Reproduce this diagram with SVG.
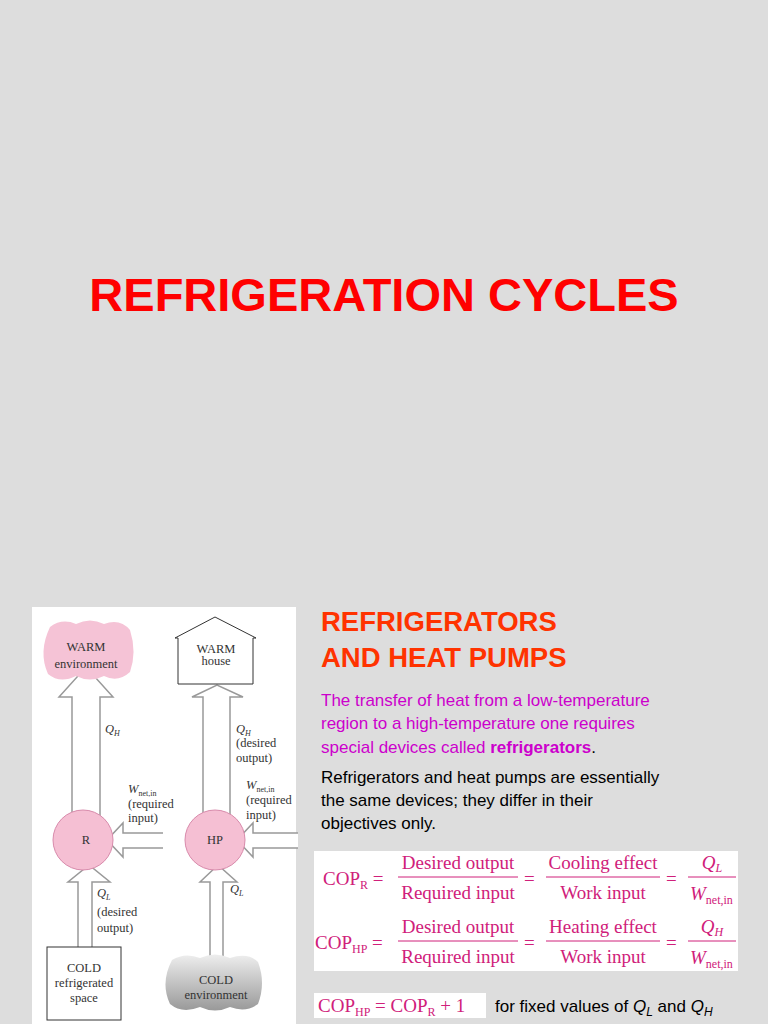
<svg xmlns="http://www.w3.org/2000/svg" width="768" height="1024" viewBox="0 0 768 1024">
<defs>
<style>
.t{font-family:"Liberation Serif",serif;font-size:12.5px;fill:#333}
.c{text-anchor:middle}
.ar{fill:#fff;stroke:#999;stroke-width:1.5}
.f{font-family:"Liberation Serif",serif;font-size:19px;fill:#d0207a}
.s{font-family:"Liberation Sans",sans-serif;font-size:17px}
.ln{stroke:#d0207a;stroke-width:1}
</style>
<linearGradient id="g" x1="0" y1="0" x2="0" y2="1"><stop offset="0" stop-color="#eee"/><stop offset="1" stop-color="#999"/></linearGradient>
</defs>
<rect width="768" height="1024" fill="#dddddd"/>
<text x="384" y="311" text-anchor="middle" font-family="Liberation Sans,sans-serif" font-weight="bold" font-size="47" fill="#ff0000">REFRIGERATION CYCLES</text>
<rect x="32" y="607" width="264" height="417" fill="#fff"/>
<g id="connectors">
<path class="ar" d="M72 818 V697 H59 L86 667 L113 697 H100 V818"/>
<path class="ar" d="M163 833 H123 V823 L107 840 L123 857 V848 H163"/>
<path class="ar" d="M78 947 V882 H68 L89 865 L110 882 H92 V947"/>
<path class="ar" d="M203 818 V697 H192 L217 685 L243 697 H230 V818"/>
<path class="ar" d="M298 833 H253 V823 L237 840 L253 857 V848 H298"/>
<path class="ar" d="M210 965 V882 H200 L218 865 L237 882 H223 V965"/>
</g>
<g id="warm-env">
<path d="M50 627 Q62 618 76 624 Q90 617 104 624 Q120 618 130 630 Q137 652 130 672 Q118 683 104 676 Q90 683 76 676 Q60 684 48 674 Q38 652 50 627Z" fill="#f5c3d6"/>
<text class="t c" x="86" y="651">WARM</text><text class="t c" x="86" y="668">environment</text>
</g>
<g id="R"><circle cx="83" cy="840" r="30" fill="#f5bfd3" stroke="#d88aab"/><text class="t c" x="86" y="844">R</text></g>
<g id="cold-space"><rect x="47" y="947" width="74" height="73" fill="#fff" stroke="#333"/>
<text class="t c" x="84" y="972">COLD</text><text class="t c" x="84" y="987">refrigerated</text><text class="t c" x="84" y="1002">space</text></g>
<g id="house"><path d="M178 684 V638 H175 L215 617 L256 638 H253 V684Z" fill="#fff" stroke="#333"/>
<text class="t c" x="216" y="653">WARM</text><text class="t c" x="216" y="665">house</text></g>
<g id="HP"><circle cx="215" cy="840" r="30" fill="#f5bfd3" stroke="#d88aab"/><text class="t c" x="215" y="844">HP</text></g>
<g id="cold-env"><path d="M172 960 Q185 952 200 958 Q215 951 230 958 Q248 952 258 962 Q266 983 258 1004 Q246 1013 230 1007 Q215 1014 200 1007 Q182 1014 170 1004 Q160 983 172 960Z" fill="url(#g)"/>
<text class="t c" x="216" y="984">COLD</text><text class="t c" x="216" y="999">environment</text></g>
<g id="labels">
<text class="t" x="105" y="733"><tspan font-style="italic">Q</tspan><tspan font-style="italic" font-size="8" dy="3">H</tspan></text>
<text class="t" x="128" y="793"><tspan font-style="italic">W</tspan><tspan font-size="8" dy="3">net,in</tspan></text>
<text class="t" x="128" y="808">(required</text><text class="t" x="128" y="822">input)</text>
<text class="t" x="97" y="897"><tspan font-style="italic">Q</tspan><tspan font-style="italic" font-size="8" dy="3">L</tspan></text>
<text class="t" x="97" y="916">(desired</text><text class="t" x="97" y="932">output)</text>
<text class="t" x="236" y="733"><tspan font-style="italic">Q</tspan><tspan font-style="italic" font-size="8" dy="3">H</tspan></text>
<text class="t" x="236" y="747">(desired</text><text class="t" x="236" y="762">output)</text>
<text class="t" x="246" y="789"><tspan font-style="italic">W</tspan><tspan font-size="8" dy="3">net,in</tspan></text>
<text class="t" x="246" y="804">(required</text><text class="t" x="246" y="819">input)</text>
<text class="t" x="230" y="893"><tspan font-style="italic">Q</tspan><tspan font-style="italic" font-size="8" dy="3">L</tspan></text>
</g>
<g font-family="Liberation Sans,sans-serif" font-weight="bold" font-size="27.5" fill="#ff3300">
<text x="321" y="631">REFRIGERATORS</text><text x="321" y="667">AND HEAT PUMPS</text></g>
<text class="s" x="321" y="706" fill="#cc00cc">The transfer of heat from a low-temperature</text>
<text class="s" x="321" y="729" fill="#cc00cc">region to a high-temperature one requires</text>
<text class="s" x="321" y="753" fill="#cc00cc">special devices called <tspan font-weight="bold">refrigerators</tspan><tspan fill="#000">.</tspan></text>
<text class="s" x="321" y="783">Refrigerators and heat pumps are essentially</text>
<text class="s" x="321" y="806">the same devices; they differ in their</text>
<text class="s" x="321" y="829">objectives only.</text>
<g id="formulas">
<rect x="314" y="851" width="424" height="120" fill="#fff"/>
<text class="f" x="323" y="885">COP<tspan font-size="12" dy="4">R</tspan><tspan dy="-4"> =</tspan></text>
<text class="f c" x="458" y="869">Desired output</text><line class="ln" x1="398" y1="877" x2="518" y2="877"/><text class="f c" x="458" y="899">Required input</text>
<text class="f" x="524" y="885">=</text>
<text class="f c" x="603" y="869">Cooling effect</text><line class="ln" x1="546" y1="877" x2="660" y2="877"/><text class="f c" x="603" y="899">Work input</text>
<text class="f" x="666" y="885">=</text>
<text class="f c" x="712" y="869" font-style="italic">Q<tspan font-size="12" dy="3">L</tspan></text><line class="ln" x1="688" y1="877" x2="736" y2="877"/>
<text class="f" x="690" y="900" font-style="italic">W<tspan font-style="normal" font-size="12" dy="4">net,in</tspan></text>
<text class="f" x="315" y="949">COP<tspan font-size="12" dy="4">HP</tspan><tspan dy="-4"> =</tspan></text>
<text class="f c" x="458" y="933">Desired output</text><line class="ln" x1="398" y1="941" x2="518" y2="941"/><text class="f c" x="458" y="963">Required input</text>
<text class="f" x="524" y="949">=</text>
<text class="f c" x="603" y="933">Heating effect</text><line class="ln" x1="546" y1="941" x2="660" y2="941"/><text class="f c" x="603" y="963">Work input</text>
<text class="f" x="666" y="949">=</text>
<text class="f c" x="712" y="933" font-style="italic">Q<tspan font-size="12" dy="3">H</tspan></text><line class="ln" x1="688" y1="941" x2="736" y2="941"/>
<text class="f" x="690" y="964" font-style="italic">W<tspan font-style="normal" font-size="12" dy="4">net,in</tspan></text>
<rect x="314" y="993" width="172" height="25" fill="#fff"/>
<text class="f" x="318" y="1012" fill="#222">COP<tspan font-size="12" dy="4">HP</tspan><tspan dy="-4"> = COP</tspan><tspan font-size="12" dy="4">R</tspan><tspan dy="-4"> + 1</tspan></text>
<text class="s" x="495" y="1012">for fixed values of <tspan font-style="italic">Q</tspan><tspan font-style="italic" font-size="12" dy="4">L</tspan><tspan dy="-4"> and </tspan><tspan font-style="italic">Q</tspan><tspan font-style="italic" font-size="12" dy="4">H</tspan></text>
</g>
</svg>
